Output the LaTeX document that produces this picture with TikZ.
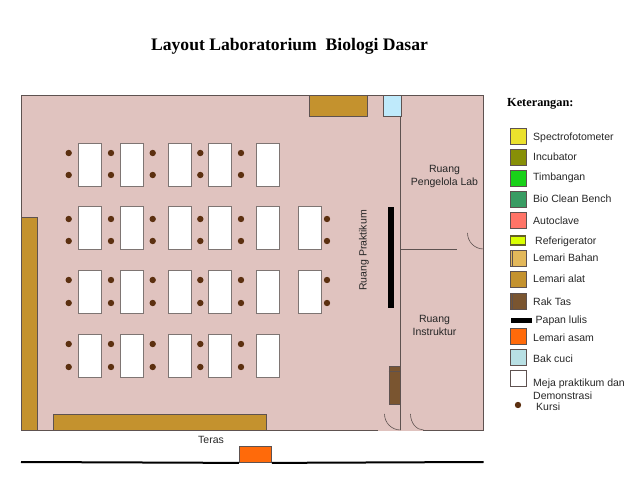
\documentclass[tikz,border=0pt]{standalone}
\usepackage{fontspec}
\setmainfont{Liberation Sans}
\newfontfamily\titlefont{Liberation Serif}
\usepackage{tikz}
\definecolor{roomc}{HTML}{E0C3BF}
\definecolor{wallc}{HTML}{5E5250}
\definecolor{alatc}{HTML}{C4922E}
\definecolor{bahanc}{HTML}{E3B85A}
\definecolor{rakc}{HTML}{7A5530}
\definecolor{chairc}{HTML}{5C3010}
\definecolor{asamc}{HTML}{FF6A0A}
\definecolor{cucic}{HTML}{B8E0E4}
\tikzstyle{label}=[font=\fontsize{10.5}{12.8}\selectfont,text=black!85,inner sep=0pt,align=center]
\tikzstyle{key}=[label,anchor=west,align=left]
\tikzstyle{wall}=[draw=wallc,line width=0.9pt]
\tikzstyle{block}=[draw=wallc,line width=0.9pt,inner sep=0pt,minimum width=#1,anchor=north west]
\tikzstyle{meja}=[draw=wallc!80!white,line width=1pt,fill=white,inner sep=0pt,minimum width=23pt,minimum height=43pt,anchor=north west]
\tikzstyle{kursi}=[circle,fill=chairc,inner sep=0pt,minimum size=6.4pt]
\tikzstyle{swatch}=[draw=wallc,line width=0.8pt,inner sep=0pt,minimum width=16pt,minimum height=16pt]
\usetikzlibrary{positioning,calc}

\begin{document}
\begin{tikzpicture}[x=1pt,y=-1pt]
\useasboundingbox (0,0) rectangle (638,478);
\node (title) at (289.5,46.5) [font=\titlefont\bfseries\fontsize{17.6}{20}\selectfont,inner sep=0pt]{Layout Laboratorium\ \ Biologi Dasar};

% rooms
\fill[roomc] (21,95) rectangle (483.5,431);
\coordinate (nw) at (21,95);
\coordinate (ne) at (483.5,95);
\coordinate (sw) at (21,430);
\coordinate (se) at (483.5,430);
\coordinate (tw) at (400.5,95);
\coordinate (bw) at (400.5,430);
\draw[wall] (sw) -- (nw) -- (ne) -- (se) -- (423,430);
\draw[wall] (378,430) -- (sw);
\draw[wall] (tw) -- (bw);
\draw[wall] (400.5,249) -- (457,249);

% doors
\draw[wall,line width=0.6pt] (467.5,233) arc (180:90:16);
\draw[wall,line width=0.6pt] (384.5,414) arc (180:90:16);
\draw[wall,line width=0.6pt] (410.5,414) arc (180:90:13 and 16);

% furniture
\node (alat1) at (309,95) [block=58pt,fill=alatc,minimum height=21pt]{};
\node (cuci) at (382.5,95) [block=18pt,fill=cyan!25,minimum height=21pt]{};
\node (alat2) at (21,217.5) [block=16pt,fill=alatc,minimum height=212.5pt]{};
\node (alat3) at (53,414) [block=213pt,fill=alatc,minimum height=16pt]{};
\node (rak) at (388.5,366.5) [block=11pt,fill=rakc,minimum height=38pt]{};
\draw[wall] ($(rak.north west)+(0,5)$) -- ($(rak.north east)+(0,5)$);
\fill[black] (388,207) rectangle (394,308);

% meja dan kursi
\foreach \r/\y/\a/\b in {1/143/153/175,2/206.5/219/241,3/270.5/280/303,4/334.5/344/367}{
  \foreach \c/\x in {1/78.3,2/119.5,3/167.5,4/208,5/255.5}
    \node (m\r\c) at (\x,\y) [meja]{};
  \foreach \k/\x in {1/68.7,2/111,3/152.7,4/200.3,5/241}{
    \node (ka\r\k) at (\x,\a) [kursi]{};
    \node (kb\r\k) at (\x,\b) [kursi]{};
  }
}
\foreach \r/\y/\a/\b in {2/206.5/219/241,3/270.5/280/303}{
  \node (m\r6) at (297.5,\y) [meja]{};
  \node (ka\r6) at (327,\a) [kursi]{};
  \node (kb\r6) at (327,\b) [kursi]{};
}

% room labels
\node (praktikum) at (364,250.5) [label,rotate=90]{Ruang Praktikum};
\node (pengelola) at (444.5,176.5) [label]{Ruang\\Pengelola Lab};
\node (instruktur) at (434.5,325.5) [label]{Ruang\\Instruktur};
\node (teras) at (211,439.5) [label]{Teras};
\node (asam) at (239,446) [block=32pt,fill=asamc,minimum height=16pt]{};
\draw[line width=2pt] (21,462) -- (asam.south west);
\draw[line width=2pt] (asam.south east) -- (483.5,462);

% legend
\node (ket) at (507,103.5) [anchor=west,inner sep=0pt,font=\titlefont\bfseries\fontsize{12.3}{14}\selectfont]{Keterangan:};
\node (s1) at (518,136) [swatch,fill=yellow!90!black!90!white]{};
\node (s2) at (518,157) [swatch,fill=olive!85!green]{};
\node (s3) at (518,178.5) [swatch,fill=green!80!black!90!white]{};
\node (s4) at (518,199.5) [swatch,fill=teal!60!green!55!gray]{};
\node (s5) at (518,220) [swatch,fill=red!55!white!90!orange]{};
\node (s6) at (518,240.5) [swatch,draw=olive!60!black,line width=1.6pt,fill=lime!60!yellow,minimum height=9pt,minimum width=15pt]{};
\node (s7) at (518,258.5) [swatch,fill=bahanc]{};
\draw[wall] ($(s7.north west)+(3,0)$) -- ($(s7.south west)+(3,0)$);
\node (s8) at (518,279.5) [swatch,fill=alatc]{};
\node (s9) at (518,301.5) [swatch,fill=rakc]{};
\draw[wall] ($(s9.north west)+(3,0)$) -- ($(s9.south west)+(3,0)$);
\node (s10) at (521,320.5) [fill=black,inner sep=0pt,minimum width=21pt,minimum height=5pt]{};
\node (s11) at (518,336) [swatch,fill=asamc]{};
\node (s12) at (518,357) [swatch,fill=cucic]{};
\node (s13) at (518,378) [swatch,fill=white]{};
\node (s14) at (518,405) [kursi]{};

\node (t1) at (533,138) [key]{Spectrofotometer};
\node (t2) at (533,157) [key]{Incubator};
\node (t3) at (533,178) [key]{Timbangan};
\node (t4) at (533,199) [key]{Bio Clean Bench};
\node (t5) at (533,220.5) [key]{Autoclave};
\node (t6) at (535,241.5) [key]{Referigerator};
\node (t7) at (533,258) [key]{Lemari Bahan};
\node (t8) at (533,279) [key]{Lemari alat};
\node (t9) at (533,301.5) [key]{Rak Tas};
\node (t10) at (535.5,321) [key]{Papan lulis};
\node (t11) at (533,337.5) [key]{Lemari asam};
\node (t12) at (533,358.5) [key]{Bak cuci};
\node (t13) at (533,389) [key]{Meja praktikum dan\\Demonstrasi};
\node (t14) at (536,406.5) [key]{Kursi};
\end{tikzpicture}
\end{document}
